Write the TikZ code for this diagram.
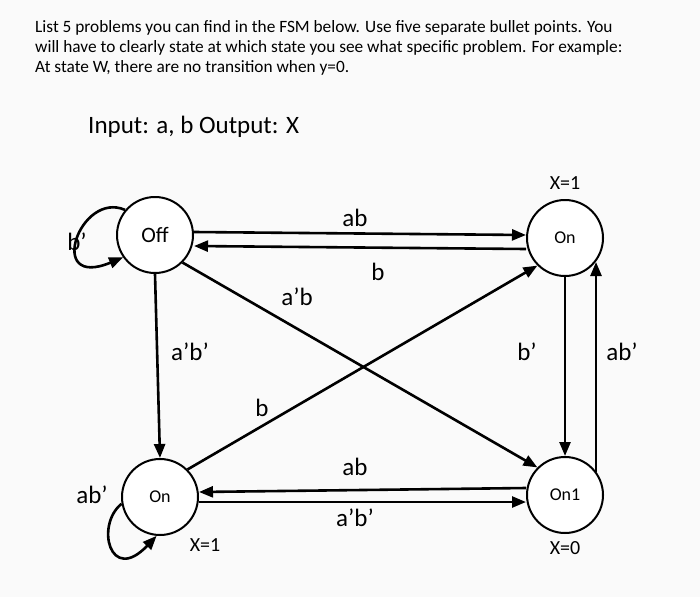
\documentclass[tikz,border=0pt]{standalone}
\usepackage{fontspec}
\setmainfont{Carlito}
\usetikzlibrary{arrows.meta}
\begin{document}
\begin{tikzpicture}[x=1pt,y=-1pt,
  st/.style={circle,draw,line width=2pt,minimum size=76pt,inner sep=0pt,fill=white},
  tr/.style={line width=2.6pt,-{Triangle[length=14pt,width=11pt]}},
  lb/.style={font=\fontsize{25}{27}\selectfont,inner sep=1pt},
  outlbl/.style={font=\fontsize{20}{22}\selectfont,inner sep=1pt}]
\fill[white!96!gray] (0,0) rectangle (700,597);
\node[anchor=north west,align=left,font=\fontsize{17.3}{20}\selectfont,inner sep=0pt] (q) at (35,20)
 {List 5 problems you can find in the FSM below. Use five separate bullet points. You\\
  will have to clearly state at which state you see what specific problem. For example:\\
  At state W, there are no transition when y=0.};
\node[anchor=west,font=\fontsize{25}{27}\selectfont,inner sep=0pt] (h) at (88,127) {Input: a, b Output: X};
\node[st,font=\fontsize{22}{24}\selectfont] (off) at (155,235) {Off};
\node[st,font=\fontsize{18}{20}\selectfont] (on) at (565,238) {On};
\node[st,font=\fontsize{18}{20}\selectfont] (onb) at (160,497) {On};
\node[st,font=\fontsize{18}{20}\selectfont] (on1) at (565,495) {On1};
% horizontal
\draw[tr] ([yshift=3pt]off.east) -- ([yshift=3pt]on.west);
\draw[tr] ([yshift=-11pt]on.west) -- ([yshift=-11pt]off.east);
\draw[tr] ([yshift=7pt]on1.west) -- ([yshift=5pt]onb.east);
\draw[tr] ([yshift=-5pt]onb.east) -- ([yshift=-7pt]on1.west);
% diagonals
\draw[tr] (off.south east) -- (on1.north west);
\draw[tr] (onb.north east) -- (on.south west);
% verticals
\draw[tr] (off.south) -- (onb.north);
\draw[tr] (on.south) -- (on1.north);
\coordinate (r1) at (596,472);
\coordinate (r2) at (596,262);
\draw[tr] (r1) -- (r2);
% loops
\draw[tr] (off.140) .. controls (80,190) and (45,290) .. (off.215);
\draw[tr] (onb.190) .. controls (95,525) and (110,585) .. (onb.265);
% labels
\node[lb] (l1) at (355,218) {ab};
\node[lb] (l2) at (378,272) {b};
\node[lb] (l3) at (297,297) {a’b};
\node[lb] (l4) at (190,352) {a’b’};
\node[lb] (l5) at (262,408) {b};
\node[lb] (l6) at (527,352) {b’};
\node[lb] (l7) at (622,352) {ab’};
\node[lb] (l8) at (355,467) {ab};
\node[lb] (l9) at (355,518) {a’b’};
\node[lb] (l10) at (77,242) {b’};
\node[lb] (l11) at (92,495) {ab’};
\node[outlbl] (x1) at (565,183) {X=1};
\node[outlbl] (x2) at (205,545) {X=1};
\node[outlbl] (x3) at (565,548) {X=0};
\end{tikzpicture}
\end{document}
